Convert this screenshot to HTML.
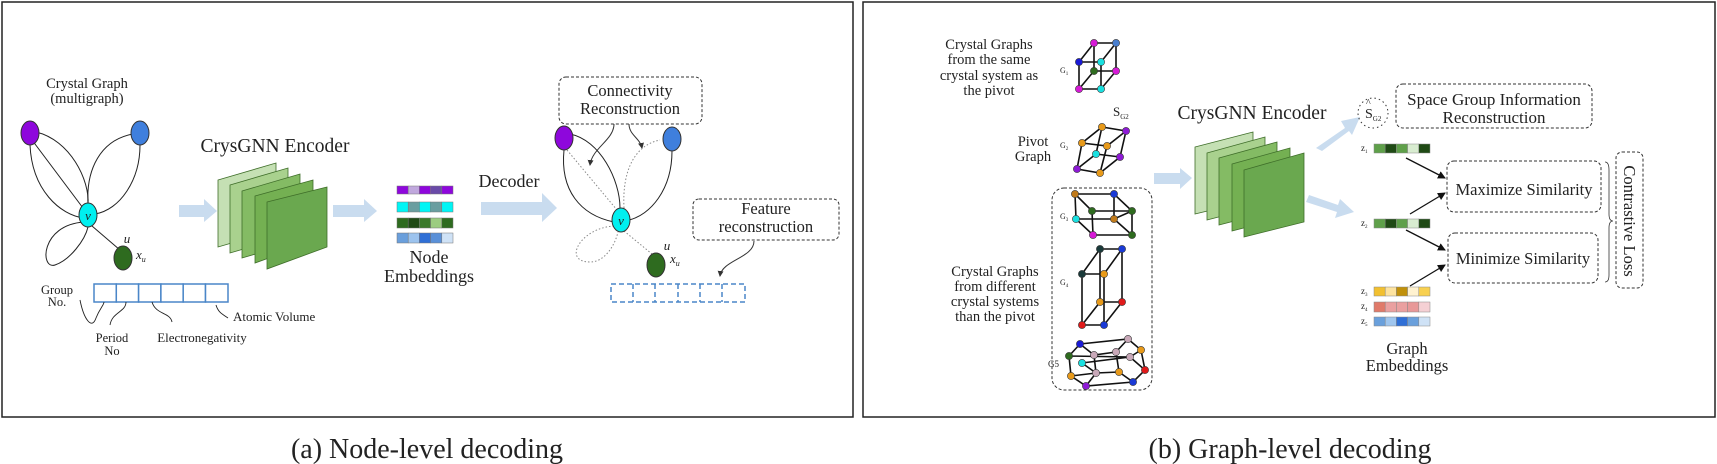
<!DOCTYPE html>
<html><head><meta charset="utf-8"><style>
html,body{margin:0;padding:0;background:#fff;}
svg{display:block;}
text{font-family:"Liberation Serif",serif;fill:#222;}
</style></head><body>
<svg width="1717" height="464" viewBox="0 0 1717 464" xmlns="http://www.w3.org/2000/svg">
<defs>
<marker id="ah" markerWidth="8" markerHeight="8" refX="7" refY="4" orient="auto" markerUnits="userSpaceOnUse"><path d="M0,0 L8,4 L0,8 z" fill="#111"/></marker>
<marker id="ah2" markerWidth="6" markerHeight="6" refX="5" refY="3" orient="auto" markerUnits="userSpaceOnUse"><path d="M0,0 L6,3 L0,6 z" fill="#333"/></marker>
</defs>
<rect x="2" y="2" width="851" height="415" fill="none" stroke="#222" stroke-width="1.5"/>
<rect x="863" y="2" width="852" height="415" fill="none" stroke="#222" stroke-width="1.5"/>

<!-- ===== LEFT PANEL ===== -->
<text x="87" y="88" font-size="14.5" text-anchor="middle">Crystal Graph</text>
<text x="87" y="103" font-size="14.5" text-anchor="middle">(multigraph)</text>
<g fill="none" stroke="#222" stroke-width="1">
<line x1="32" y1="140" x2="86" y2="212"/>
<path d="M30,145 C32,190 60,215 84,218"/>
<path d="M36,132 C70,140 90,180 88,205"/>
<path d="M140,145 C140,180 120,210 95,214"/>
<path d="M88,204 C86,170 100,140 133,134"/>
<path d="M84,222 C40,225 40,270 55,265 C70,260 85,240 88,227"/>
<line x1="92" y1="226" x2="120" y2="250"/>
</g>
<ellipse cx="30" cy="133" rx="9" ry="12" fill="#8e07dc" stroke="#333"/>
<ellipse cx="140" cy="133" rx="9" ry="12" fill="#3f7fdd" stroke="#333"/>
<ellipse cx="88" cy="215" rx="9" ry="12" fill="#00f0f0" stroke="#333"/>
<text x="88" y="220" font-size="13" font-style="italic" text-anchor="middle">v</text>
<ellipse cx="123" cy="258" rx="9" ry="12" fill="#2e6b1f" stroke="#333"/>
<text x="127" y="243" font-size="13" font-style="italic" text-anchor="middle">u</text>
<text x="136" y="259" font-size="13" font-style="italic">x<tspan font-size="8" dy="3">u</tspan></text>
<g fill="#fff" stroke="#4a86c8" stroke-width="1.5">
<rect x="94" y="284" width="22.3" height="18"/><rect x="116.3" y="284" width="22.3" height="18"/><rect x="138.6" y="284" width="22.3" height="18"/><rect x="160.9" y="284" width="22.3" height="18"/><rect x="183.2" y="284" width="22.3" height="18"/><rect x="205.5" y="284" width="22.5" height="18"/>
</g>
<g fill="none" stroke="#222" stroke-width="0.9">
<path d="M80,300 C84,320 92,330 96,318 C100,308 104,305 104,302"/>
<path d="M126,302 C126,312 112,312 110,325"/>
<path d="M152,302 C156,315 170,312 172,322"/>
<path d="M216,305 C218,312 222,314 228,318"/>
</g>
<text x="57" y="294" font-size="12.5" text-anchor="middle">Group</text>
<text x="57" y="306" font-size="12.5" text-anchor="middle">No.</text>
<text x="112" y="342" font-size="12.5" text-anchor="middle">Period</text>
<text x="112" y="355" font-size="12.5" text-anchor="middle">No</text>
<text x="202" y="342" font-size="13" text-anchor="middle">Electronegativity</text>
<text x="233" y="321" font-size="13">Atomic Volume</text>

<text x="275" y="152" font-size="19.5" text-anchor="middle">CrysGNN Encoder</text>
<path d="M179,205 L204,205 L204,199 L217,211 L204,222 L204,217 L179,217 z" fill="#c9dcef"/>
<path d="M333,205 L364,205 L364,199 L377,211 L364,222 L364,217 L333,217 z" fill="#c9dcef"/>
<g stroke="#3f6e2a" stroke-width="0.8">
<polygon points="218,180 276,163 276,230 218,247" fill="#c5e0b4"/>
<polygon points="230,185 288,168 288,236 230,253" fill="#a9d18e"/>
<polygon points="242,191 300,174 300,241 242,258" fill="#84bb64"/>
<polygon points="255,196 313,180 313,242 255,263" fill="#74b052"/>
<polygon points="267,202 327,187 327,247 267,269" fill="#6aa84f"/>
</g>
<g stroke="#777" stroke-width="0.5">
<rect x="397" y="186" width="11.2" height="8" fill="#8e07dc"/><rect x="408.2" y="186" width="11.2" height="8" fill="#c0a8dd"/><rect x="419.4" y="186" width="11.2" height="8" fill="#8e07dc"/><rect x="430.6" y="186" width="11.2" height="8" fill="#6a4aa8"/><rect x="441.8" y="186" width="11.2" height="8" fill="#8e07dc"/>
<rect x="397" y="202" width="11.2" height="10" fill="#00f5f5"/><rect x="408.2" y="202" width="11.2" height="10" fill="#6a9ea0"/><rect x="419.4" y="202" width="11.2" height="10" fill="#00f5f5"/><rect x="430.6" y="202" width="11.2" height="10" fill="#6a9ea0"/><rect x="441.8" y="202" width="11.2" height="10" fill="#00f5f5"/>
<rect x="397" y="218" width="11.2" height="10" fill="#2e6b1f"/><rect x="408.2" y="218" width="11.2" height="10" fill="#1f4a15"/><rect x="419.4" y="218" width="11.2" height="10" fill="#3a7a2a"/><rect x="430.6" y="218" width="11.2" height="10" fill="#9ccc80"/><rect x="441.8" y="218" width="11.2" height="10" fill="#2e6b1f"/>
<rect x="397" y="233" width="11.2" height="10" fill="#6a9fdc"/><rect x="408.2" y="233" width="11.2" height="10" fill="#9cc3ee"/><rect x="419.4" y="233" width="11.2" height="10" fill="#2f6fd6"/><rect x="430.6" y="233" width="11.2" height="10" fill="#5a90d8"/><rect x="441.8" y="233" width="11.2" height="10" fill="#cfe2f6"/>
</g>
<text x="429" y="263" font-size="18" text-anchor="middle">Node</text>
<text x="429" y="282" font-size="18" text-anchor="middle">Embeddings</text>
<text x="509" y="187" font-size="18" text-anchor="middle">Decoder</text>
<path d="M481,202 L542,202 L542,193 L557,208 L542,222 L542,215 L481,215 z" fill="#c9dcef"/>
<rect x="559" y="77" width="143" height="47" rx="7" fill="none" stroke="#333" stroke-dasharray="3,2"/>
<text x="630" y="96" font-size="16.5" text-anchor="middle">Connectivity</text>
<text x="630" y="114" font-size="16.5" text-anchor="middle">Reconstruction</text>
<g fill="none" stroke="#333" stroke-width="1">
<path d="M614,124 C614,140 592,148 590,165" marker-end="url(#ah2)"/>
<path d="M629,124 C629,135 640,138 642,148" marker-end="url(#ah2)"/>
</g>
<g fill="none" stroke="#222" stroke-width="1">
<path d="M564,150 C560,190 580,215 614,222"/>
<path d="M570,134 C600,140 620,180 620,208"/>
<path d="M672,151 C672,190 650,215 629,220"/>
</g>
<g fill="none" stroke="#888" stroke-width="1" stroke-dasharray="1.5,2">
<line x1="567" y1="150" x2="617" y2="210"/>
<path d="M624,208 C622,170 635,145 660,140"/>
<path d="M614,226 C580,228 562,262 590,262 C605,262 615,245 618,232"/>
<line x1="624" y1="231" x2="652" y2="254"/>
</g>
<ellipse cx="564" cy="138" rx="9" ry="12" fill="#8e07dc" stroke="#333"/>
<ellipse cx="672" cy="139" rx="9" ry="12" fill="#3f7fdd" stroke="#333"/>
<ellipse cx="621" cy="220" rx="9" ry="12" fill="#00f0f0" stroke="#333"/>
<text x="621" y="225" font-size="13" font-style="italic" text-anchor="middle">v</text>
<ellipse cx="656" cy="265" rx="9" ry="12" fill="#2e6b1f" stroke="#333"/>
<text x="667" y="250" font-size="13" font-style="italic" text-anchor="middle">u</text>
<text x="670" y="263" font-size="13" font-style="italic">x<tspan font-size="8" dy="3">u</tspan></text>
<rect x="693" y="199" width="146" height="41" rx="6" fill="none" stroke="#333" stroke-dasharray="3,2"/>
<text x="766" y="214" font-size="16.5" text-anchor="middle">Feature</text>
<text x="766" y="232" font-size="16.5" text-anchor="middle">reconstruction</text>
<path d="M754,241 C754,258 722,260 720,276" fill="none" stroke="#333" marker-end="url(#ah2)"/>
<g fill="none" stroke="#4a86c8" stroke-width="1.5" stroke-dasharray="5,3">
<rect x="611" y="284" width="134" height="18"/>
<line x1="633" y1="284" x2="633" y2="302"/><line x1="655" y1="284" x2="655" y2="302"/><line x1="678" y1="284" x2="678" y2="302"/><line x1="700" y1="284" x2="700" y2="302"/><line x1="722" y1="284" x2="722" y2="302"/>
</g>

<!-- ===== RIGHT PANEL ===== -->
<g font-size="14.5" text-anchor="middle">
<text x="989" y="49">Crystal Graphs</text>
<text x="989" y="64">from the same</text>
<text x="989" y="80">crystal system as</text>
<text x="989" y="95">the pivot</text>
<text x="1033" y="146">Pivot</text>
<text x="1033" y="161">Graph</text>
<text x="995" y="276">Crystal Graphs</text>
<text x="995" y="291">from different</text>
<text x="995" y="306">crystal systems</text>
<text x="995" y="321">than the pivot</text>
</g>
<g font-size="8"><text x="1060" y="73">G<tspan font-size="5" dy="2">1</tspan></text>
<text x="1060" y="148">G<tspan font-size="5" dy="2">2</tspan></text>
<text x="1060" y="219">G<tspan font-size="5" dy="2">3</tspan></text>
<text x="1060" y="285">G<tspan font-size="5" dy="2">4</tspan></text>
<text x="1048" y="367" font-size="9">G5</text></g>
<text x="1113" y="116" font-size="13">S<tspan font-size="7" dy="3">G2</tspan></text>
<g stroke="#111" stroke-width="1.6" fill="none">
<path d="M1094,43 L1116,43 L1116,71 L1101,89 L1079,89 L1079,62 L1094,43 M1079,62 L1101,62 L1116,43 M1101,62 L1101,89 M1094,43 L1094,71 L1116,71 M1094,71 L1079,89"/>
<path d="M1102,127 L1126,131 L1120,157 L1100,173 L1077,169 L1082,143 L1102,127 M1082,143 L1107,146 L1126,131 M1107,146 L1100,173 M1102,127 L1096,154 L1120,157 M1096,154 L1077,169"/>
<path d="M1075,194 L1114,194 L1132,211 L1132,235 L1093,235 L1076,219 L1075,194 M1076,219 L1114,219 L1132,211 M1114,194 L1114,219 L1132,235 M1075,194 L1092,211 L1132,211 M1092,211 L1093,235"/>
<path d="M1100,249 L1122,249 L1122,302 L1104,325 L1082,325 L1082,274 L1100,249 M1082,274 L1104,274 L1122,249 M1104,274 L1104,325 M1100,249 L1100,302 L1122,302 M1100,302 L1082,325"/>
<path d="M1080,344 L1128,339 L1141,350 L1145,370 L1133,382 L1086,386 L1071,376 L1069,356 L1080,344 M1069,356 L1130,357 L1141,350 M1080,344 L1094,355 L1116,352 L1128,339 M1082,363 L1130,357 L1145,370 M1094,355 L1096,373 L1086,386 M1071,376 L1096,373 L1119,372 L1133,382 M1116,352 L1119,372 M1082,363 L1096,373"/>
</g>
<g stroke="#333" stroke-width="0.6">
<circle cx="1094" cy="43" r="3.6" fill="#d61ad6"/><circle cx="1116" cy="43" r="3.6" fill="#4a7fcf"/><circle cx="1079" cy="62" r="3.6" fill="#1a1ad6"/><circle cx="1101" cy="62" r="3.6" fill="#1ae0e0"/><circle cx="1094" cy="71" r="3.6" fill="#2e6b1f"/><circle cx="1116" cy="71" r="3.6" fill="#d61ad6"/><circle cx="1079" cy="89" r="3.6" fill="#d61ad6"/><circle cx="1101" cy="89" r="3.6" fill="#1ae0e0"/>
<circle cx="1102" cy="127" r="3.6" fill="#e89a1a"/><circle cx="1126" cy="131" r="3.6" fill="#8e1ad6"/><circle cx="1082" cy="143" r="3.6" fill="#e89a1a"/><circle cx="1107" cy="146" r="3.6" fill="#e89a1a"/><circle cx="1096" cy="154" r="3.6" fill="#1ae0e0"/><circle cx="1120" cy="157" r="3.6" fill="#8e1ad6"/><circle cx="1077" cy="169" r="3.6" fill="#8e1ad6"/><circle cx="1100" cy="173" r="3.6" fill="#e89a1a"/>
<circle cx="1075" cy="194" r="3.6" fill="#c07a1a"/><circle cx="1114" cy="194" r="3.6" fill="#1a3ad6"/><circle cx="1092" cy="211" r="3.6" fill="#2e6b1f"/><circle cx="1132" cy="211" r="3.6" fill="#2e6b1f"/><circle cx="1076" cy="219" r="3.6" fill="#1ae0e0"/><circle cx="1114" cy="219" r="3.6" fill="#c07a1a"/><circle cx="1093" cy="235" r="3.6" fill="#d61ad6"/><circle cx="1132" cy="235" r="3.6" fill="#2e6b1f"/>
<circle cx="1100" cy="249" r="3.6" fill="#1a3a3a"/><circle cx="1122" cy="249" r="3.6" fill="#1a3ad6"/><circle cx="1082" cy="274" r="3.6" fill="#1a3a3a"/><circle cx="1104" cy="274" r="3.6" fill="#e89a1a"/><circle cx="1100" cy="302" r="3.6" fill="#e89a1a"/><circle cx="1122" cy="302" r="3.6" fill="#e01a1a"/><circle cx="1082" cy="325" r="3.6" fill="#e01a1a"/><circle cx="1104" cy="325" r="3.6" fill="#1a3ad6"/>
<circle cx="1080" cy="344" r="3.6" fill="#1a1ad6"/><circle cx="1128" cy="339" r="3.6" fill="#c8a8b8"/><circle cx="1141" cy="350" r="3.6" fill="#e89a1a"/><circle cx="1069" cy="356" r="3.6" fill="#2e6b1f"/><circle cx="1094" cy="355" r="3.6" fill="#c8a8b8"/><circle cx="1116" cy="352" r="3.6" fill="#c8a8b8"/><circle cx="1082" cy="363" r="3.6" fill="#1ae0e0"/><circle cx="1130" cy="357" r="3.6" fill="#c8a8b8"/><circle cx="1071" cy="376" r="3.6" fill="#e89a1a"/><circle cx="1096" cy="373" r="3.6" fill="#c8a8b8"/><circle cx="1119" cy="372" r="3.6" fill="#e89a1a"/><circle cx="1145" cy="370" r="3.6" fill="#e01a1a"/><circle cx="1086" cy="386" r="3.6" fill="#8e1ad6"/><circle cx="1133" cy="382" r="3.6" fill="#1a3ad6"/>
</g>
<rect x="1052" y="188" width="100" height="202" rx="12" fill="none" stroke="#333" stroke-dasharray="3,2"/>
<path d="M1154,173 L1180,173 L1180,168 L1192,178 L1180,189 L1180,184 L1154,184 z" fill="#c9dcef"/>
<text x="1252" y="119" font-size="19.5" text-anchor="middle">CrysGNN Encoder</text>
<g stroke="#3f6e2a" stroke-width="0.8">
<polygon points="1195,147 1253,132 1253,200 1195,214" fill="#c5e0b4"/>
<polygon points="1207,153 1265,137 1265,205 1207,220" fill="#a9d18e"/>
<polygon points="1219,158 1277,142 1277,210 1219,225" fill="#84bb64"/>
<polygon points="1232,164 1290,148 1290,216 1232,231" fill="#74b052"/>
<polygon points="1244,170 1304,153 1304,222 1244,237" fill="#6aa84f"/>
</g>
<path d="M1316,148 L1345,128 L1341,121 L1360,117 L1352,135 L1349,131 L1322,151 z" fill="#c9dcef"/>
<path d="M1309,195 L1338,205 L1340,199 L1354,212 L1335,218 L1337,212 L1306,202 z" fill="#c9dcef"/>
<circle cx="1373" cy="113" r="15" fill="none" stroke="#333" stroke-dasharray="1.5,3"/>
<text x="1365" y="118" font-size="14">S<tspan font-size="7" dy="3">G2</tspan></text>
<text x="1366" y="106" font-size="10">^</text>
<rect x="1396" y="84" width="196" height="44" rx="7" fill="none" stroke="#333" stroke-dasharray="3,2"/>
<text x="1494" y="105" font-size="17" text-anchor="middle">Space Group Information</text>
<text x="1494" y="123" font-size="17" text-anchor="middle">Reconstruction</text>
<g font-size="9"><text x="1361" y="151">z<tspan font-size="5" dy="2">1</tspan></text><text x="1361" y="226">z<tspan font-size="5" dy="2">2</tspan></text><text x="1361" y="294">z<tspan font-size="5" dy="2">3</tspan></text><text x="1361" y="309">z<tspan font-size="5" dy="2">4</tspan></text><text x="1361" y="324">z<tspan font-size="5" dy="2">5</tspan></text></g>
<g stroke="#888" stroke-width="0.5">
<rect x="1374" y="144" width="11.2" height="9" fill="#5fa04a"/><rect x="1385.2" y="144" width="11.2" height="9" fill="#1f4a15"/><rect x="1396.4" y="144" width="11.2" height="9" fill="#5fa04a"/><rect x="1407.6" y="144" width="11.2" height="9" fill="#d8ecd0"/><rect x="1418.8" y="144" width="11.2" height="9" fill="#1f4a15"/>
<rect x="1374" y="219" width="11.2" height="9" fill="#5fa04a"/><rect x="1385.2" y="219" width="11.2" height="9" fill="#1f4a15"/><rect x="1396.4" y="219" width="11.2" height="9" fill="#5fa04a"/><rect x="1407.6" y="219" width="11.2" height="9" fill="#d8ecd0"/><rect x="1418.8" y="219" width="11.2" height="9" fill="#1f4a15"/>
<rect x="1374" y="287" width="11.2" height="9" fill="#f2c030"/><rect x="1385.2" y="287" width="11.2" height="9" fill="#fde3a0"/><rect x="1396.4" y="287" width="11.2" height="9" fill="#c0900a"/><rect x="1407.6" y="287" width="11.2" height="9" fill="#fff2d0"/><rect x="1418.8" y="287" width="11.2" height="9" fill="#f8d050"/>
<rect x="1374" y="302" width="11.2" height="10" fill="#e07a6a"/><rect x="1385.2" y="302" width="11.2" height="10" fill="#eaa0a0"/><rect x="1396.4" y="302" width="11.2" height="10" fill="#eaa0a0"/><rect x="1407.6" y="302" width="11.2" height="10" fill="#e89898"/><rect x="1418.8" y="302" width="11.2" height="10" fill="#f5d0d4"/>
<rect x="1374" y="317" width="11.2" height="9" fill="#6aa0dc"/><rect x="1385.2" y="317" width="11.2" height="9" fill="#a0c6ee"/><rect x="1396.4" y="317" width="11.2" height="9" fill="#2f6fd6"/><rect x="1407.6" y="317" width="11.2" height="9" fill="#6aa0dc"/><rect x="1418.8" y="317" width="11.2" height="9" fill="#cfe2f6"/>
</g>
<text x="1407" y="354" font-size="16.5" text-anchor="middle">Graph</text>
<text x="1407" y="371" font-size="16.5" text-anchor="middle">Embeddings</text>
<g stroke="#111" stroke-width="1.3">
<line x1="1406" y1="158" x2="1445" y2="178" marker-end="url(#ah)"/>
<line x1="1410" y1="214" x2="1445" y2="193" marker-end="url(#ah)"/>
<line x1="1406" y1="230" x2="1445" y2="250" marker-end="url(#ah)"/>
<line x1="1410" y1="286" x2="1445" y2="265" marker-end="url(#ah)"/>
</g>
<rect x="1447" y="161" width="154" height="51" rx="7" fill="none" stroke="#333" stroke-dasharray="3,2"/>
<text x="1524" y="195" font-size="16.5" text-anchor="middle">Maximize Similarity</text>
<rect x="1448" y="233" width="150" height="50" rx="7" fill="none" stroke="#333" stroke-dasharray="3,2"/>
<text x="1523" y="264" font-size="16.5" text-anchor="middle">Minimize Similarity</text>
<path d="M1605,162 Q1609,162 1609,170 L1609,214 Q1609,221 1613,221 Q1609,221 1609,228 L1609,275 Q1609,282 1605,282" fill="none" stroke="#333" stroke-width="0.8"/>
<rect x="1616" y="152" width="27" height="136" rx="6" fill="none" stroke="#333" stroke-dasharray="3,2"/>
<text x="0" y="0" font-size="16.5" text-anchor="middle" transform="translate(1624,221) rotate(90)">Contrastive Loss</text>

<text x="427" y="458" font-size="28" text-anchor="middle" fill="#111">(a) Node-level decoding</text>
<text x="1290" y="458" font-size="28" text-anchor="middle" fill="#111">(b) Graph-level decoding</text>
</svg>
</body></html>
